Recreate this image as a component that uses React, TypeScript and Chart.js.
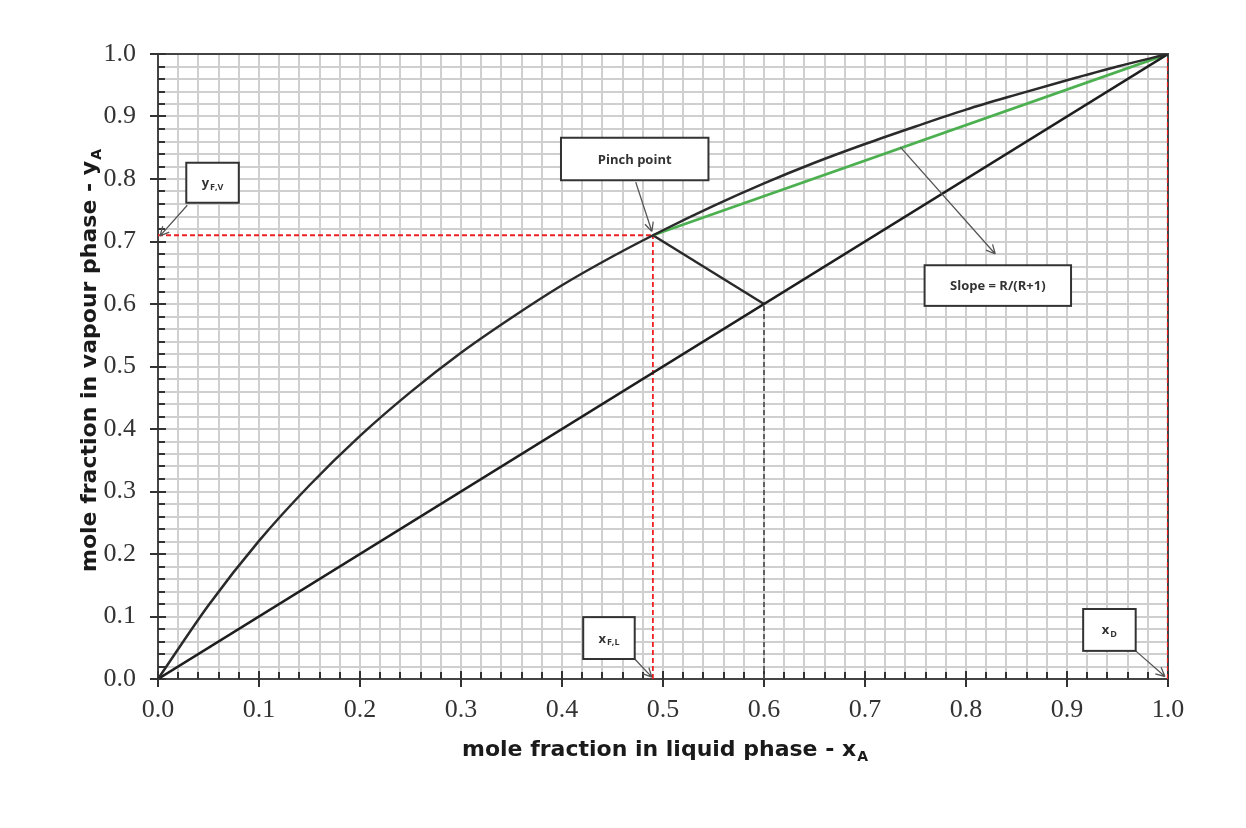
import React, { useEffect, useRef } from 'react';
import { Chart, registerables } from 'chart.js';

Chart.register(...registerables);

// Equilibrium curve
const X_EQ = [0, 0.05, 0.1, 0.15, 0.2, 0.25, 0.3, 0.35, 0.4, 0.45, 0.5, 0.55, 0.6, 0.65, 0.7, 0.75, 0.8, 0.85, 0.9, 0.95, 1.0];
const Y_EQ = [0, 0.118, 0.221, 0.31, 0.389, 0.459, 0.522, 0.578, 0.63, 0.676, 0.718, 0.757, 0.793, 0.826, 0.856, 0.884, 0.911, 0.935, 0.958, 0.98, 1.0];

// y = x diagonal
const DIAG_X = [0, 1];
const DIAG_Y = [0, 1];

// Operating line (green) from pinch point to xD
const OP_X = [0.49, 1.0];
const OP_Y = [0.71, 1.0];

// q-line
const Q_X = [0.49, 0.6];
const Q_Y = [0.71, 0.6];

// Guide lines
const XF_V_X = [0.49, 0.49];
const XF_V_Y = [0, 0.71];
const YF_H_X = [0, 0.49];
const YF_H_Y = [0.71, 0.71];
const XD_X = [1.0, 1.0];
const XD_Y = [0, 1.0];
const ZF_X = [0.6, 0.6];
const ZF_Y = [0, 0.6];

const TICK_LABELS = ['0.0', '0.1', '0.2', '0.3', '0.4', '0.5', '0.6', '0.7', '0.8', '0.9', '1.0'];

const X_TITLE = 'mole fraction in liquid phase - x';
const Y_TITLE = 'mole fraction in vapour phase - y';
const TITLE_SUB = 'A';

// Callout boxes: text, box in data coords, arrow start/end in data coords
const CALLOUTS = [
  { main: 'y', sub: 'F,V', box: [0.028, 0.826, 0.08, 0.762], from: [0.029, 0.758], to: [0.002, 0.709] },
  { main: 'Pinch point', sub: '', box: [0.399, 0.866, 0.545, 0.798], from: [0.473, 0.795], to: [0.489, 0.716] },
  { main: 'Slope = R/(R+1)', sub: '', box: [0.759, 0.662, 0.904, 0.597], from: [0.735, 0.851], to: [0.829, 0.68] },
  { main: 'x', sub: 'F,L', box: [0.421, 0.099, 0.472, 0.032], from: [0.472, 0.032], to: [0.489, 0.003] },
  { main: 'x', sub: 'D', box: [0.916, 0.112, 0.968, 0.045], from: [0.968, 0.045], to: [0.997, 0.004] },
];

const pts = (xs: number[], ys: number[]) => xs.map((x, i) => ({ x, y: ys[i] }));

function drawArrow(ctx: CanvasRenderingContext2D, x1: number, y1: number, x2: number, y2: number) {
  ctx.save();
  ctx.strokeStyle = '#555';
  ctx.lineWidth = 1.3;
  ctx.beginPath();
  ctx.moveTo(x1, y1);
  ctx.lineTo(x2, y2);
  const a = Math.atan2(y2 - y1, x2 - x1);
  const L = 10;
  const w = 0.45;
  ctx.moveTo(x2, y2);
  ctx.lineTo(x2 - L * Math.cos(a - w), y2 - L * Math.sin(a - w));
  ctx.moveTo(x2, y2);
  ctx.lineTo(x2 - L * Math.cos(a + w), y2 - L * Math.sin(a + w));
  ctx.stroke();
  ctx.restore();
}

function drawSubText(ctx: CanvasRenderingContext2D, main: string, sub: string, cx: number, cy: number, size: number, family: string, color: string, subScale = 0.62) {
  const mainFont = `bold ${size}px ${family}`;
  const subFont = `bold ${Math.round(size * subScale)}px ${family}`;
  ctx.save();
  ctx.fillStyle = color;
  ctx.textBaseline = 'alphabetic';
  ctx.textAlign = 'left';
  ctx.font = mainFont;
  const wm = ctx.measureText(main).width;
  ctx.font = subFont;
  const ws = sub ? ctx.measureText(sub).width : 0;
  const total = wm + (sub ? ws + 1 : 0);
  const x0 = cx - total / 2;
  const base = cy + size * 0.35;
  ctx.font = mainFont;
  ctx.fillText(main, x0, base);
  if (sub) {
    ctx.font = subFont;
    ctx.fillText(sub, x0 + wm + 1, base + size * 0.22);
  }
  ctx.restore();
}

const decorPlugin = {
  id: 'decor',
  beforeDatasetsDraw(chart: any) {
    const { ctx, chartArea: a, scales } = chart;
    const xs = scales.x;
    const ys = scales.y;
    ctx.save();
    ctx.strokeStyle = '#444';
    ctx.lineWidth = 2;
    ctx.beginPath();
    ctx.moveTo(a.left, a.top);
    ctx.lineTo(a.right, a.top);
    ctx.lineTo(a.right, a.bottom);
    ctx.moveTo(a.left, a.top);
    ctx.lineTo(a.left, a.bottom);
    ctx.lineTo(a.right, a.bottom);
    ctx.stroke();
    ctx.strokeStyle = '#333';
    ctx.beginPath();
    for (let i = 0; i <= 50; i++) {
      const v = i / 50;
      const px = Math.round(xs.getPixelForValue(v));
      const py = Math.round(ys.getPixelForValue(v));
      if (i % 5 === 0) {
        ctx.moveTo(px, a.bottom - 8);
        ctx.lineTo(px, a.bottom + 8);
        ctx.moveTo(a.left - 8, py);
        ctx.lineTo(a.left + 8, py);
      } else {
        ctx.moveTo(px, a.bottom - 7);
        ctx.lineTo(px, a.bottom);
        ctx.moveTo(a.left, py);
        ctx.lineTo(a.left + 7, py);
      }
    }
    ctx.stroke();
    ctx.restore();
  },
  afterDraw(chart: any) {
    const { ctx, chartArea: a, scales } = chart;
    const xs = scales.x;
    const ys = scales.y;
    const titleFamily = '"DejaVu Sans"';
    drawSubText(ctx, X_TITLE, TITLE_SUB, (a.left + a.right) / 2 + 2, 748, 22, titleFamily, '#1a1a1a');
    ctx.save();
    ctx.translate(88, (a.top + a.bottom) / 2 - 6);
    ctx.rotate(-Math.PI / 2);
    drawSubText(ctx, Y_TITLE, TITLE_SUB, 0, 0, 22, titleFamily, '#1a1a1a');
    ctx.restore();
    for (const c of CALLOUTS) {
      const x1 = xs.getPixelForValue(c.box[0]);
      const y1 = ys.getPixelForValue(c.box[1]);
      const x2 = xs.getPixelForValue(c.box[2]);
      const y2 = ys.getPixelForValue(c.box[3]);
      drawArrow(ctx, xs.getPixelForValue(c.from[0]), ys.getPixelForValue(c.from[1]), xs.getPixelForValue(c.to[0]), ys.getPixelForValue(c.to[1]));
      ctx.save();
      ctx.fillStyle = '#fff';
      ctx.fillRect(x1, y1, x2 - x1, y2 - y1);
      ctx.strokeStyle = '#333';
      ctx.lineWidth = 2;
      ctx.strokeRect(x1, y1, x2 - x1, y2 - y1);
      ctx.restore();
      drawSubText(ctx, c.main, c.sub, (x1 + x2) / 2, (y1 + y2) / 2, 13, '"Open Sans"', '#333', 0.7);
    }
  },
};

export default function App() {
  const ref = useRef<HTMLCanvasElement>(null);
  useEffect(() => {
    document.body.style.margin = '0';
    document.body.style.overflow = 'hidden';
    const canvas = ref.current;
    if (!canvas) return;
    const tickCb = (v: any) => {
      const i = Math.round(Number(v) * 50);
      return i % 5 === 0 ? TICK_LABELS[i / 5] : '';
    };
    const red = '#ee2222';
    const chart = new Chart(canvas, {
      type: 'scatter',
      data: {
        datasets: [
          { data: pts(X_EQ, Y_EQ), showLine: true, borderColor: '#2a2a2a', borderWidth: 2.5, pointRadius: 0, cubicInterpolationMode: 'monotone' } as any,
          { data: pts(DIAG_X, DIAG_Y), showLine: true, borderColor: '#1e1e1e', borderWidth: 2.5, pointRadius: 0 },
          { data: pts(OP_X, OP_Y), showLine: true, borderColor: '#4cb050', borderWidth: 2.8, pointRadius: 0 },
          { data: pts(Q_X, Q_Y), showLine: true, borderColor: '#2a2a2a', borderWidth: 2.5, pointRadius: 0 },
          { data: pts(XF_V_X, XF_V_Y), showLine: true, borderColor: red, borderWidth: 1.8, borderDash: [5, 3], pointRadius: 0 },
          { data: pts(YF_H_X, YF_H_Y), showLine: true, borderColor: red, borderWidth: 1.8, borderDash: [5, 3], pointRadius: 0 },
          { data: pts(XD_X, XD_Y), showLine: true, borderColor: red, borderWidth: 2.2, borderDash: [5, 3], pointRadius: 0 },
          { data: pts(ZF_X, ZF_Y), showLine: true, borderColor: '#555', borderWidth: 1.8, borderDash: [5, 3], pointRadius: 0 },
        ],
      },
      options: {
        responsive: false,
        animation: false,
        layout: { padding: { left: 98, right: 78, top: 54, bottom: 99 } },
        plugins: { legend: { display: false }, tooltip: { enabled: false } },
        scales: {
          x: {
            type: 'linear',
            min: 0,
            max: 1,
            border: { display: false },
            grid: { color: '#cfcfcf', lineWidth: 2, drawTicks: false },
            ticks: { stepSize: 0.02, autoSkip: false, maxRotation: 0, padding: 16, color: '#333', font: { family: '"Liberation Serif"', size: 26 }, callback: tickCb },
            afterFit: (s: any) => { s.height = 50; },
          },
          y: {
            type: 'linear',
            min: 0,
            max: 1,
            border: { display: false },
            grid: { color: '#cfcfcf', lineWidth: 2, drawTicks: false },
            ticks: { stepSize: 0.02, autoSkip: false, padding: 22, color: '#333', font: { family: '"Liberation Serif"', size: 26 }, callback: tickCb },
            afterFit: (s: any) => { s.width = 60; },
          },
        },
      },
      plugins: [decorPlugin],
    } as any);
    return () => chart.destroy();
  }, []);
  return <canvas ref={ref} width={1246} height={828} style={{ display: 'block' }} />;
}
